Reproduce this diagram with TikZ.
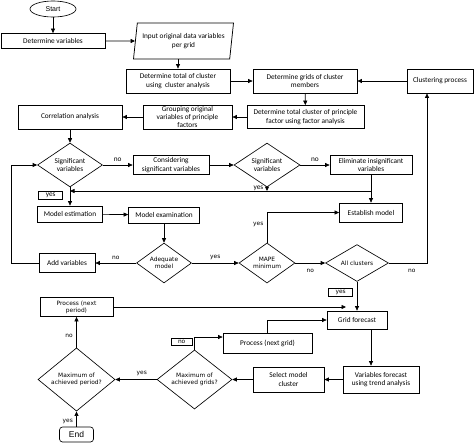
\documentclass[tikz,border=0pt]{standalone}
\usepackage{fontspec}
\setmainfont{Carlito}
\newfontfamily\vfont{DejaVu Sans}
\newfontfamily\afont{Liberation Sans}
\usetikzlibrary{shapes.geometric, arrows.meta}

\begin{document}
\begin{tikzpicture}[
        x=1pt, y=-1pt,
        font=\fontsize{7.3}{8.2}\selectfont,
        >={Triangle[length=4.5pt, width=4pt]},
        line width=0.65pt,
        blk/.style={draw, line width=0.75pt, align=center, inner sep=1pt},
        cond/.style={draw, diamond, align=center, inner sep=0pt},
        vtxt/.style={font=\vfont\fontsize{5.9}{7}\selectfont},
        tag/.style={draw, inner sep=0.8pt, minimum width=24, minimum height=8}]
    \useasboundingbox (0,0) rectangle (474,445);

    % ---------- upper part: clustering ----------
    \node[draw, ellipse, minimum width=46, minimum height=16, inner sep=0pt,
          font=\afont\fontsize{7}{7}\selectfont] (start) at (53,9) {Start};
    \node[blk, minimum width=104, minimum height=15] (detvar) at (53,41) {Determine variables};
    \node[blk, trapezium, trapezium left angle=77, trapezium right angle=103,
          trapezium stretches body, minimum width=100, minimum height=36] (input) at (183.5,41)
          {Input original data variables\\per grid};
    \node[blk, minimum width=104, minimum height=24] (totclus) at (178,81) {Determine total of cluster\\using\ \ cluster analysis};
    \node[blk, minimum width=104, minimum height=24] (grids) at (305,81) {Determine grids of cluster\\members};
    \node[blk, minimum width=66, minimum height=24] (clproc) at (440,81) {Clustering process};
    \node[blk, minimum width=117, minimum height=23] (factor) at (305.5,117) {Determine total cluster of principle\\factor using factor analysis};
    \node[blk, minimum width=89, minimum height=24] (group) at (187.5,117) {Grouping original\\variables of principle\\factors};
    \node[blk, minimum width=104, minimum height=24] (corr) at (70,117) {Correlation analysis};

    % ---------- middle part: model ----------
    \node[cond, minimum width=65, minimum height=35] (sig1) at (70,165) {Significant\\variables};
    \node[blk, minimum width=76, minimum height=19] (consid) at (171,165) {Considering\\significant variables};
    \node[cond, minimum width=66, minimum height=36] (sig2) at (267,165) {Significant\\variables};
    \node[blk, minimum width=82, minimum height=19] (elim) at (371,165) {Eliminate insignificant\\variables};
    \node[blk, minimum width=63, minimum height=19] (estab) at (371,212.5) {Establish model};
    \node[blk, minimum width=65, minimum height=16] (modest) at (70,214) {Model estimation};
    \node[blk, minimum width=71, minimum height=16] (modex) at (164,215) {Model examination};
    \node[cond, vtxt, minimum width=55, minimum height=35] (adeq) at (164,263) {Adequate\\model};
    \node[blk, minimum width=56, minimum height=19] (addvar) at (67,263) {Add variables};
    \node[cond, vtxt, minimum width=56, minimum height=40] (mape) at (267,263) {MAPE\\minimum};
    \node[cond, vtxt, minimum width=63, minimum height=36] (allcl) at (357,263) {All clusters};

    % ---------- lower part: forecast ----------
    \node[blk, minimum width=60, minimum height=18] (grid) at (357,320) {Grid forecast};
    \node[blk, vtxt, minimum width=73, minimum height=19] (pperiod) at (76.5,307) {Process (next\\period)};
    \node[blk, minimum width=89, minimum height=20] (pgrid) at (267.5,343) {Process (next grid)};
    \node[blk, minimum width=76, minimum height=27] (vfore) at (381,379.5) {Variables forecast\\using trend analysis};
    \node[blk, minimum width=71, minimum height=25] (selm) at (288.5,379.5) {Select model\\cluster};
    \node[cond, vtxt, minimum width=75, minimum height=43] (dgrid) at (194.5,379.5) {Maximum of\\achieved grids?};
    \node[cond, vtxt, minimum width=77, minimum height=55] (dper) at (76.5,379.5) {Maximum of\\achieved period?};
    \node[draw, rounded corners=3pt, minimum width=34, minimum height=15, inner sep=0pt,
          font=\afont\fontsize{8.5}{9}\selectfont] (endn) at (76.5,434.5) {End};

    \coordinate (yj) at (371,191);
    \coordinate (pend) at (346,307);

    \draw[->] (start) -- (detvar);
    \draw[->] (detvar) -- (input);
    \draw[->] (input.south -| totclus) -- (totclus);
    \draw[->] (totclus) -- (grids);
    \draw[->] (clproc) -- (grids);
    \draw[->] (grids) -- (factor);
    \draw[->] (factor) -- (group);
    \draw[->] (group) -- (corr);
    \draw[->] (corr) -- (sig1);
    \draw[->] (sig1) -- node[above] (n1) {no} (consid);
    \draw[->] (consid) -- (sig2);
    \draw[->] (sig2) -- node[above] (n2) {no} (elim);
    \draw[->] (elim) -- (estab);
    \draw[->] (yj) -- (sig1.south |- yj);
    \draw[->] (sig2) -- node[left, pos=0.3] (y1) {yes} (sig2.south |- yj);
    \draw[->] (sig1) -- node[tag, pos=0.42, left=7pt] (y2) {yes} (modest);
    \draw[->] (modest) -- (modex);
    \draw[->] (modex) -- (adeq);
    \draw[->] (adeq) -- node[above, vtxt] (n3) {no} (addvar);
    \draw[->] (addvar.west) -- ++(-27,0) |- (sig1);
    \draw[->] (adeq) -- node[above, vtxt] (y3) {yes} (mape);
    \draw[->] (mape) |- node[left, pos=0.3, vtxt] (y4) {yes} (estab);
    \draw[->] (mape) -- node[below=3pt, vtxt] (n4) {no} (allcl);
    \draw[->] (allcl) -| node[below=3pt, pos=0.3, vtxt] (n5) {no} ([xshift=-13pt]clproc.south);
    \draw[->] (allcl) -- node[tag, vtxt, pos=0.37, left=4pt] (y5) {yes} (grid);
    \draw[->] (pperiod) -- (pend);
    \draw[->] (pgrid) |- (grid);
    \draw[->] ([xshift=14pt]grid.south) -- ([xshift=14pt]grid.south |- vfore.north);
    \draw[->] (vfore) -- (selm);
    \draw[->] (selm) -- (dgrid);
    \draw[->] (dgrid) |- node[tag, vtxt, pos=0.3, left=2pt, minimum width=21, minimum height=7] (n6) {no} (pgrid.west |- 0,337);
    \draw[->] (dgrid) -- node[above, pos=0.36, vtxt] (y6) {yes} (dper);
    \draw[->] (dper) -- node[left, pos=0.39, vtxt] (n7) {no} (pperiod);
    \draw[->] (endn) -- node[left, pos=0.35, vtxt] (y7) {yes} (dper);
    \end{tikzpicture}
\end{document}
